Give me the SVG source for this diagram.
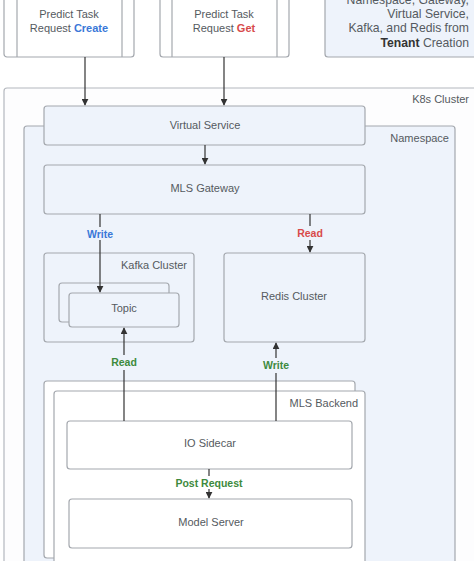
<svg xmlns="http://www.w3.org/2000/svg" width="474" height="561" viewBox="0 0 474 561">
<defs>
<marker id="ah" viewBox="0 0 10 10" refX="9" refY="5" markerWidth="7" markerHeight="7" orient="auto" markerUnits="userSpaceOnUse"><path d="M0,0 L10,5 L0,10 z" fill="#333"/></marker>
<style>
.b{fill:#ffffff;stroke:#a4a8ae;stroke-width:1.2}
.l{fill:#eef3fb;stroke:#a4a8ae;stroke-width:1.2}
.t{font-family:"Liberation Sans",Arial,sans-serif;font-size:11px;fill:#555a60}
.n{font-size:12.2px}
.c{text-anchor:middle}
.r{text-anchor:end}
.k{stroke:#333;stroke-width:1.2;fill:none}
.lab{font-family:"Liberation Sans",Arial,sans-serif;font-size:10.5px;font-weight:bold;text-anchor:middle}
</style>
</defs>
<rect width="474" height="561" fill="#ffffff"/>
<g id="create">
<rect class="b" x="4" y="-10" width="130" height="67" rx="3"/>
<line x1="17" y1="-10" x2="17" y2="57" stroke="#a4a8ae" stroke-width="1.2"/>
<line x1="122" y1="-10" x2="122" y2="57" stroke="#a4a8ae" stroke-width="1.2"/>
<text class="t c" x="69" y="18">Predict Task</text>
<text class="t c" x="69" y="32">Request <tspan fill="#3a78d8" font-weight="bold">Create</tspan></text>
</g>
<g id="get">
<rect class="b" x="160" y="-10" width="129" height="67" rx="3"/>
<line x1="172" y1="-10" x2="172" y2="57" stroke="#a4a8ae" stroke-width="1.2"/>
<line x1="277" y1="-10" x2="277" y2="57" stroke="#a4a8ae" stroke-width="1.2"/>
<text class="t c" x="224" y="18">Predict Task</text>
<text class="t c" x="224" y="32">Request <tspan fill="#d84a4a" font-weight="bold">Get</tspan></text>
</g>
<g id="note">
<rect class="l" x="325" y="-10" width="160" height="67" rx="3"/>
<text class="t n r" x="469" y="4">Namespace, Gateway,</text>
<text class="t n r" x="469" y="18">Virtual Service,</text>
<text class="t n r" x="469" y="32">Kafka, and Redis from</text>
<text class="t n r" x="469" y="47"><tspan font-weight="bold" fill="#333">Tenant</tspan> Creation</text>
</g>
<g id="k8s">
<rect x="4" y="88" width="480" height="490" rx="3" fill="#fdfdfe" stroke="#b4b8be" stroke-width="1.2"/>
<text class="t r" x="469" y="103">K8s Cluster</text>
</g>
<g id="namespace">
<rect class="l" x="24" y="126" width="431" height="450" rx="3"/>
<text class="t r" x="449" y="142">Namespace</text>
</g>
<g id="virtual-service">
<rect class="l" x="44" y="106" width="321" height="39" rx="3"/>
<text class="t c" x="205" y="129">Virtual Service</text>
</g>
<g id="mls-gateway">
<rect class="l" x="44" y="165" width="321" height="49" rx="3"/>
<text class="t c" x="205" y="192">MLS Gateway</text>
</g>
<g id="kafka">
<rect class="l" x="44" y="253" width="150" height="89" rx="3"/>
<text class="t r" x="187" y="269">Kafka Cluster</text>
</g>
<g id="topic">
<rect class="l" x="59" y="283" width="110" height="39" rx="3"/>
<rect class="l" x="69" y="293" width="110" height="34" rx="3"/>
<text class="t c" x="124" y="312">Topic</text>
</g>
<g id="redis">
<rect class="l" x="224" y="253" width="141" height="89" rx="3"/>
<text class="t c" x="294" y="300">Redis Cluster</text>
</g>
<g id="mls-backend">
<rect class="b" x="44" y="381" width="311" height="177" rx="3"/>
<rect class="b" x="54" y="391" width="311" height="180" rx="3"/>
<text class="t r" x="358" y="407">MLS Backend</text>
</g>
<g id="io-sidecar">
<rect class="b" x="67" y="421" width="285" height="48" rx="3"/>
<text class="t c" x="210" y="447">IO Sidecar</text>
</g>
<g id="model-server">
<rect class="b" x="69" y="499" width="283" height="49" rx="3"/>
<text class="t c" x="211" y="526">Model Server</text>
</g>
<g id="connectors">
<line class="k" x1="85" y1="57" x2="85" y2="105" marker-end="url(#ah)"/>
<line class="k" x1="224" y1="57" x2="224" y2="105" marker-end="url(#ah)"/>
<line class="k" x1="205" y1="145" x2="205" y2="164" marker-end="url(#ah)"/>
<line class="k" x1="100" y1="214" x2="100" y2="227"/>
<line class="k" x1="100" y1="240" x2="100" y2="292" marker-end="url(#ah)"/>
<text class="lab" x="100" y="238" fill="#3a78d8">Write</text>
<line class="k" x1="310" y1="214" x2="310" y2="226"/>
<line class="k" x1="310" y1="240" x2="310" y2="252" marker-end="url(#ah)"/>
<text class="lab" x="310" y="237" fill="#d84a4a">Read</text>
<line class="k" x1="124" y1="421" x2="124" y2="370"/>
<line class="k" x1="124" y1="355" x2="124" y2="328" marker-end="url(#ah)"/>
<text class="lab" x="124" y="366" fill="#3d8a3d">Read</text>
<line class="k" x1="276" y1="421" x2="276" y2="373"/>
<line class="k" x1="276" y1="358" x2="276" y2="343" marker-end="url(#ah)"/>
<text class="lab" x="276" y="369" fill="#3d8a3d">Write</text>
<line class="k" x1="209" y1="469" x2="209" y2="476"/>
<line class="k" x1="209" y1="489" x2="209" y2="498" marker-end="url(#ah)"/>
<text class="lab" x="209" y="487" fill="#3d8a3d">Post Request</text>
</g>
</svg>
